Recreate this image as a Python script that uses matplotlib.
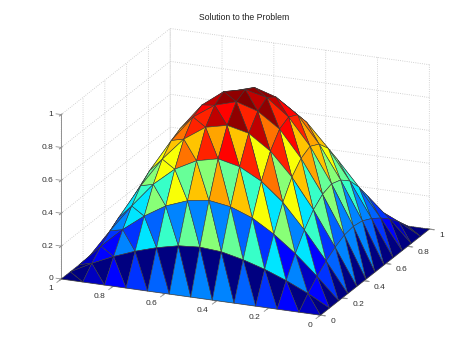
import numpy as np
import matplotlib
matplotlib.use('Agg')
import matplotlib.pyplot as plt
from matplotlib.colors import LinearSegmentedColormap
from mpl_toolkits.mplot3d import proj3d
from mpl_toolkits.mplot3d.art3d import Poly3DCollection

title = 'Solution to the Problem'
tick_vals = [0, 0.2, 0.4, 0.6, 0.8, 1]
tick_text = ['0', '0.2', '0.4', '0.6', '0.8', '1']
node_x = [0, 0.083, 0.167, 0.25, 0.333, 0.417, 0.5, 0.583, 0.667, 0.75, 0.833, 0.917, 1]
node_y = [0, 0.083, 0.167, 0.25, 0.333, 0.417, 0.5, 0.583, 0.667, 0.75, 0.833, 0.917, 1]
# heights, rows along x, columns along y
height = [
    [0, 0, 0, 0, 0, 0, 0, 0, 0, 0, 0, 0, 0],
    [0, .07, .13, .18, .22, .25, .26, .25, .22, .18, .13, .07, 0],
    [0, .13, .25, .35, .43, .48, .50, .48, .43, .35, .25, .13, 0],
    [0, .18, .35, .50, .61, .68, .71, .68, .61, .50, .35, .18, 0],
    [0, .22, .43, .61, .75, .84, .87, .84, .75, .61, .43, .22, 0],
    [0, .25, .48, .68, .84, .93, .97, .93, .84, .68, .48, .25, 0],
    [0, .26, .50, .71, .87, .97, 1.0, .97, .87, .71, .50, .26, 0],
    [0, .25, .48, .68, .84, .93, .97, .93, .84, .68, .48, .25, 0],
    [0, .22, .43, .61, .75, .84, .87, .84, .75, .61, .43, .22, 0],
    [0, .18, .35, .50, .61, .68, .71, .68, .61, .50, .35, .18, 0],
    [0, .13, .25, .35, .43, .48, .50, .48, .43, .35, .25, .13, 0],
    [0, .07, .13, .18, .22, .25, .26, .25, .22, .18, .13, .07, 0],
    [0, 0, 0, 0, 0, 0, 0, 0, 0, 0, 0, 0, 0],
]

plt.rcParams['font.family'] = ['Liberation Sans', 'DejaVu Sans']
plt.rcParams['font.size'] = 6

# the older jet, its green band is narrower than matplotlib's
jet_old = LinearSegmentedColormap('jet_old', {
    'red': [(0, 0, 0), (.375, 0, 0), (.625, 1, 1), (.875, 1, 1), (1, .5, .5)],
    'green': [(0, 0, 0), (.125, 0, 0), (.375, 1, 1), (.625, 1, 1), (.875, 0, 0), (1, 0, 0)],
    'blue': [(0, .5, .5), (.125, 1, 1), (.375, 1, 1), (.625, 0, 0), (1, 0, 0)],
}, N=64)

fig = plt.figure(figsize=(4.74, 3.55), dpi=100)
ax = fig.add_axes([0.0074, 0.0025, 1, 1], projection='3d', proj_type='ortho')
ax.patch.set_alpha(0)
ax.view_init(elev=19.4, azim=202.8)
ax.set_box_aspect((1, 1, 0.62), zoom=1.187)
ax.set_xlim(0, 1, view_margin=0)
ax.set_ylim(0, 1, view_margin=0)
ax.set_zlim(0, 1, view_margin=0)

z = np.array(height)
tris = []
vals = []
for i in range(12):
    for j in range(12):
        p00 = (node_x[i], node_y[j], z[i, j])
        p01 = (node_x[i], node_y[j + 1], z[i, j + 1])
        p10 = (node_x[i + 1], node_y[j], z[i + 1, j])
        p11 = (node_x[i + 1], node_y[j + 1], z[i + 1, j + 1])
        tris.append([p00, p01, p11])
        vals.append(z[i + 1, j + 1])
        tris.append([p00, p10, p11])
        vals.append(z[i, j])

poly = Poly3DCollection(tris, facecolors=jet_old(np.array(vals)), edgecolors='#3a3a3a',
                        linewidths=0.4, zsort='average')
poly.set_clip_on(False)
ax.add_collection3d(poly)

for axis in (ax.xaxis, ax.yaxis, ax.zaxis):
    axis.set_ticks(tick_vals)
    axis.set_ticklabels([])
    axis.set_pane_color((1, 1, 1, 0))
    axis.pane.set_edgecolor('#d0d0d0')
    axis.line.set_color('#909090')
    axis.line.set_linewidth(0.7)
    axis._axinfo['grid'].update(color='#c4c4c4', linestyle=':', linewidth=0.6)
    axis.set_tick_params(color='#909090')


def tick_label(pos, text, dx, dy, ha):
    # labels sit at a fixed pixel offset from the projected tick
    px, py, _ = proj3d.proj_transform(*pos, ax.get_proj())
    ax.annotate(text, xy=(px, py), xycoords='data', xytext=(dx * 0.72, dy * 0.72),
                textcoords='offset points', ha=ha, va='center', fontsize=6,
                color='#303030', annotation_clip=False)


def tick_mark(start, end):
    # native 3d ticks barely show at this size, draw them as short lines
    ax.plot(*zip(start, end), color='#909090', lw=0.6, clip_on=False)


for v, s in zip(tick_vals, tick_text):
    tick_mark((v, 0, 0), (v, -0.02, 0))
    tick_mark((0, v, 0), (-0.04, v, 0))
    tick_mark((0, 1, v), (0, 1.02, v))
    tick_label((v, 0, 0), s, 10, -6.5, 'left')
    tick_label((0, v, 0), s, -8, -10, 'right')
    tick_label((0, 1, v), s, -8, 0, 'right')

ax.set_xlim(0, 1, view_margin=0)
ax.set_ylim(0, 1, view_margin=0)
ax.set_zlim(0, 1, view_margin=0)

fig.text(0.516, 0.951, title, ha='center', va='center', fontsize=6.2, color='#202020')
fig.savefig('out.png', dpi=100)
